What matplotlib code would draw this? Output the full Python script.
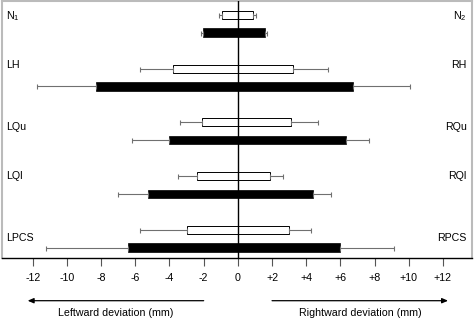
import matplotlib
matplotlib.use("Agg")
import matplotlib.pyplot as plt
import matplotlib.transforms as mtransforms
import numpy as np

plt.rcParams['font.family'] = ['Liberation Sans', 'DejaVu Sans']
plt.rcParams['mathtext.default'] = 'regular'

left_labels = ['N$_1$', 'LH', 'LQu', 'LQl', 'LPCS']
right_labels = ['N$_2$', 'RH', 'RQu', 'RQl', 'RPCS']

# mean deviation (mm), negative = leftward
left_white = [-0.95, -3.8, -2.1, -2.4, -3.0]
left_white_sd = [0.15, 1.9, 1.3, 1.1, 2.75]
left_black = [-2.05, -8.3, -4.05, -5.25, -6.45]
left_black_sd = [0.1, 3.45, 2.15, 1.75, 4.8]

right_white = [0.9, 3.25, 3.1, 1.9, 3.0]
right_white_sd = [0.17, 2.0, 1.6, 0.75, 1.3]
right_black = [1.6, 6.75, 6.35, 4.4, 6.0]
right_black_sd = [0.08, 3.35, 1.35, 1.05, 3.15]

ticks = [-12, -10, -8, -6, -4, -2, 0, 2, 4, 6, 8, 10, 12]
tick_labels = ['-12', '-10', '-8', '-6', '-4', '-2', '0',
               '+2', '+4', '+6', '+8', '+10', '+12']

fig = plt.figure(figsize=(4.74, 3.23), dpi=100)
ax = fig.add_axes([2/474, 65/323, 470/474, 257/323])

y = np.arange(len(left_labels))
off = 0.165
z = np.zeros(len(y))
err_kw = dict(ecolor='#707070', elinewidth=0.8, capsize=1.8, capthick=0.8)

# white bars (upper of each pair)
ax.barh(y - off, left_white, height=0.15, color='white', edgecolor='black', linewidth=0.7,
        xerr=[left_white_sd, z], error_kw=err_kw, zorder=2)
ax.barh(y - off, right_white, height=0.15, color='white', edgecolor='black', linewidth=0.7,
        xerr=[z, right_white_sd], error_kw=err_kw, zorder=2)
# black bars (lower of each pair)
ax.barh(y + off, left_black, height=0.16, color='black', edgecolor='black', linewidth=0.5,
        xerr=[left_black_sd, z], error_kw=err_kw, zorder=2)
ax.barh(y + off, right_black, height=0.16, color='black', edgecolor='black', linewidth=0.5,
        xerr=[z, right_black_sd], error_kw=err_kw, zorder=2)

ax.axvline(0, color='black', linewidth=1.0, zorder=3)

ax.set_xlim(-13.8, 13.7)
ax.set_ylim(4.36, -0.425)
ax.set_yticks([])
ax.set_xticks(ticks)
ax.set_xticklabels(tick_labels, fontsize=7.7)
ax.tick_params(axis='x', length=5.8, width=0.8, color='#555555', pad=5)

for s in ['top', 'left', 'right']:
    ax.spines[s].set_color('#bbbbbb')
    ax.spines[s].set_linewidth(1.5)
ax.spines['bottom'].set_color('black')
ax.spines['bottom'].set_linewidth(1.0)

# row labels on both sides
label_dy = [-0.15, -0.24, -0.07, -0.16, -0.01]
ytrans = ax.get_yaxis_transform()
for i in y:
    ax.text(0.0085, i + label_dy[i], left_labels[i], transform=ytrans,
            fontsize=7.7, ha='left', va='center')
    ax.text(0.989, i + label_dy[i], right_labels[i], transform=ytrans,
            fontsize=7.7, ha='right', va='center')

# direction arrows and captions below the axis
below = mtransforms.blended_transform_factory(ax.transData, fig.transFigure)
arrow_y = 1 - 300.7/323
akw = dict(arrowstyle='-|>,head_length=0.35,head_width=0.15', color='black', lw=0.9,
           shrinkA=0, shrinkB=0)
ax.annotate('', xy=(-12.3, arrow_y), xytext=(-2, arrow_y),
            xycoords=below, textcoords=below, arrowprops=akw, annotation_clip=False)
ax.annotate('', xy=(12.3, arrow_y), xytext=(2, arrow_y),
            xycoords=below, textcoords=below, arrowprops=akw, annotation_clip=False)

text_y = 1 - 313/323
ax.text(-7.15, text_y, 'Leftward deviation (mm)', transform=below,
        fontsize=7.7, ha='center', va='center')
ax.text(7.15, text_y, 'Rightward deviation (mm)', transform=below,
        fontsize=7.7, ha='center', va='center')

fig.savefig('out.png', dpi=100)
